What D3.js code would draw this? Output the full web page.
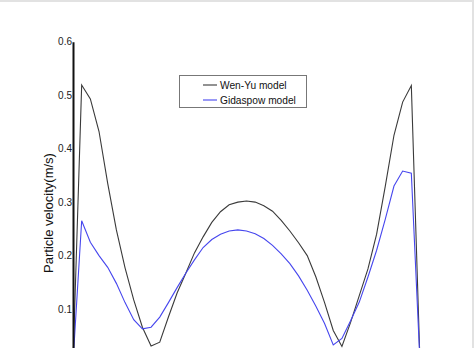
<!DOCTYPE html>
<html>
<head>
<meta charset="utf-8">
<script src="https://cdn.jsdelivr.net/npm/d3@7"></script>
<style>
  html, body { margin: 0; padding: 0; background: #fff; }
  svg { display: block; font-family: Arial, "Liberation Sans", sans-serif; }
</style>
</head>
<body>
<div id="chart"></div>
<script>
// dimensionless radial position (wall to wall)
const positions = [0, 0.025, 0.05, 0.075, 0.1, 0.125, 0.15, 0.175, 0.2, 0.225,
  0.25, 0.275, 0.3, 0.325, 0.35, 0.375, 0.4, 0.425, 0.45, 0.475,
  0.5, 0.525, 0.55, 0.575, 0.6, 0.625, 0.65, 0.675, 0.7, 0.725,
  0.75, 0.775, 0.8, 0.825, 0.85, 0.875, 0.9, 0.925, 0.95, 0.975, 1];

const wenYu = [0, 0.519, 0.493, 0.432, 0.335, 0.248, 0.177, 0.117, 0.066, 0.031,
  0.038, 0.085, 0.13, 0.167, 0.205, 0.235, 0.262, 0.282, 0.295, 0.300,
  0.302, 0.300, 0.293, 0.283, 0.266, 0.246, 0.224, 0.200, 0.160, 0.112,
  0.060, 0.030, 0.075, 0.125, 0.175, 0.240, 0.330, 0.425, 0.487, 0.518, 0];

const gidaspow = [0, 0.265, 0.225, 0.200, 0.178, 0.148, 0.112, 0.080, 0.063, 0.066,
  0.085, 0.112, 0.140, 0.167, 0.192, 0.215, 0.230, 0.240, 0.246, 0.248,
  0.246, 0.241, 0.232, 0.219, 0.203, 0.185, 0.162, 0.135, 0.105, 0.073,
  0.033, 0.045, 0.078, 0.113, 0.160, 0.210, 0.268, 0.330, 0.358, 0.354, 0];

const seriesNames = ['Wen-Yu model', 'Gidaspow model'];
const seriesColors = ['#3a3a3a', '#4646ee'];
const yTicks = [0.1, 0.2, 0.3, 0.4, 0.5, 0.6];

const W = 474, H = 348;

const svg = d3.select('#chart').append('svg')
  .attr('width', W)
  .attr('height', H);

svg.append('rect').attr('width', W).attr('height', H).style('fill', '#fff');
// scan border from the source figure
svg.append('rect').attr('x', 0).attr('y', 0).attr('width', W).attr('height', 2).style('fill', '#e2e2e2');
svg.append('rect').attr('x', 472).attr('y', 0).attr('width', 2).attr('height', H).style('fill', '#e2e2e2');

const x = d3.scaleLinear().domain([0, 1]).range([73, 420]);
const y = d3.scaleLinear().domain([0, 0.6]).range([362.5, 41.7]);

// Curves
const data = [wenYu, gidaspow];
data.forEach((vals, k) => {
  const line = d3.line()
    .x((d, i) => x(positions[i]))
    .y(d => y(d));
  svg.append('path')
    .datum(vals)
    .attr('d', line)
    .style('fill', 'none')
    .style('stroke', seriesColors[k])
    .style('stroke-width', 1.1);
});

// Eje Y
const yAxis = svg.append('g')
  .attr('transform', 'translate(73,0)')
  .call(d3.axisLeft(y).tickValues(yTicks).tickSize(0).tickSizeOuter(0).tickPadding(1)
    .tickFormat(d3.format('.1f')));
yAxis.select('.domain').style('stroke', '#111').style('stroke-width', 2);
yAxis.selectAll('text')
  .style('font-size', '10px')
  .style('font-family', 'Arial, "Liberation Sans", sans-serif')
  .style('fill', '#222');

svg.append('text')
  .attr('transform', 'translate(53,213) rotate(-90)')
  .attr('text-anchor', 'middle')
  .style('font-size', '13px')
  .style('fill', '#111')
  .text('Particle velocity(m/s)');

// Leyenda
const legend = svg.append('g');
legend.append('rect')
  .attr('x', 179.5).attr('y', 75.5)
  .attr('width', 127).attr('height', 32)
  .style('fill', '#fff')
  .style('stroke', '#777')
  .style('stroke-width', 1);

seriesNames.forEach((name, k) => {
  const ly = 85 + k * 15;
  legend.append('line')
    .attr('x1', 203).attr('x2', 217)
    .attr('y1', ly).attr('y2', ly)
    .style('stroke', seriesColors[k])
    .style('stroke-width', 1.1);
  legend.append('text')
    .attr('x', 220).attr('y', ly)
    .attr('dy', '0.35em')
    .style('font-size', '10.2px')
    .style('fill', '#111')
    .text(name);
});
</script>
</body>
</html>
